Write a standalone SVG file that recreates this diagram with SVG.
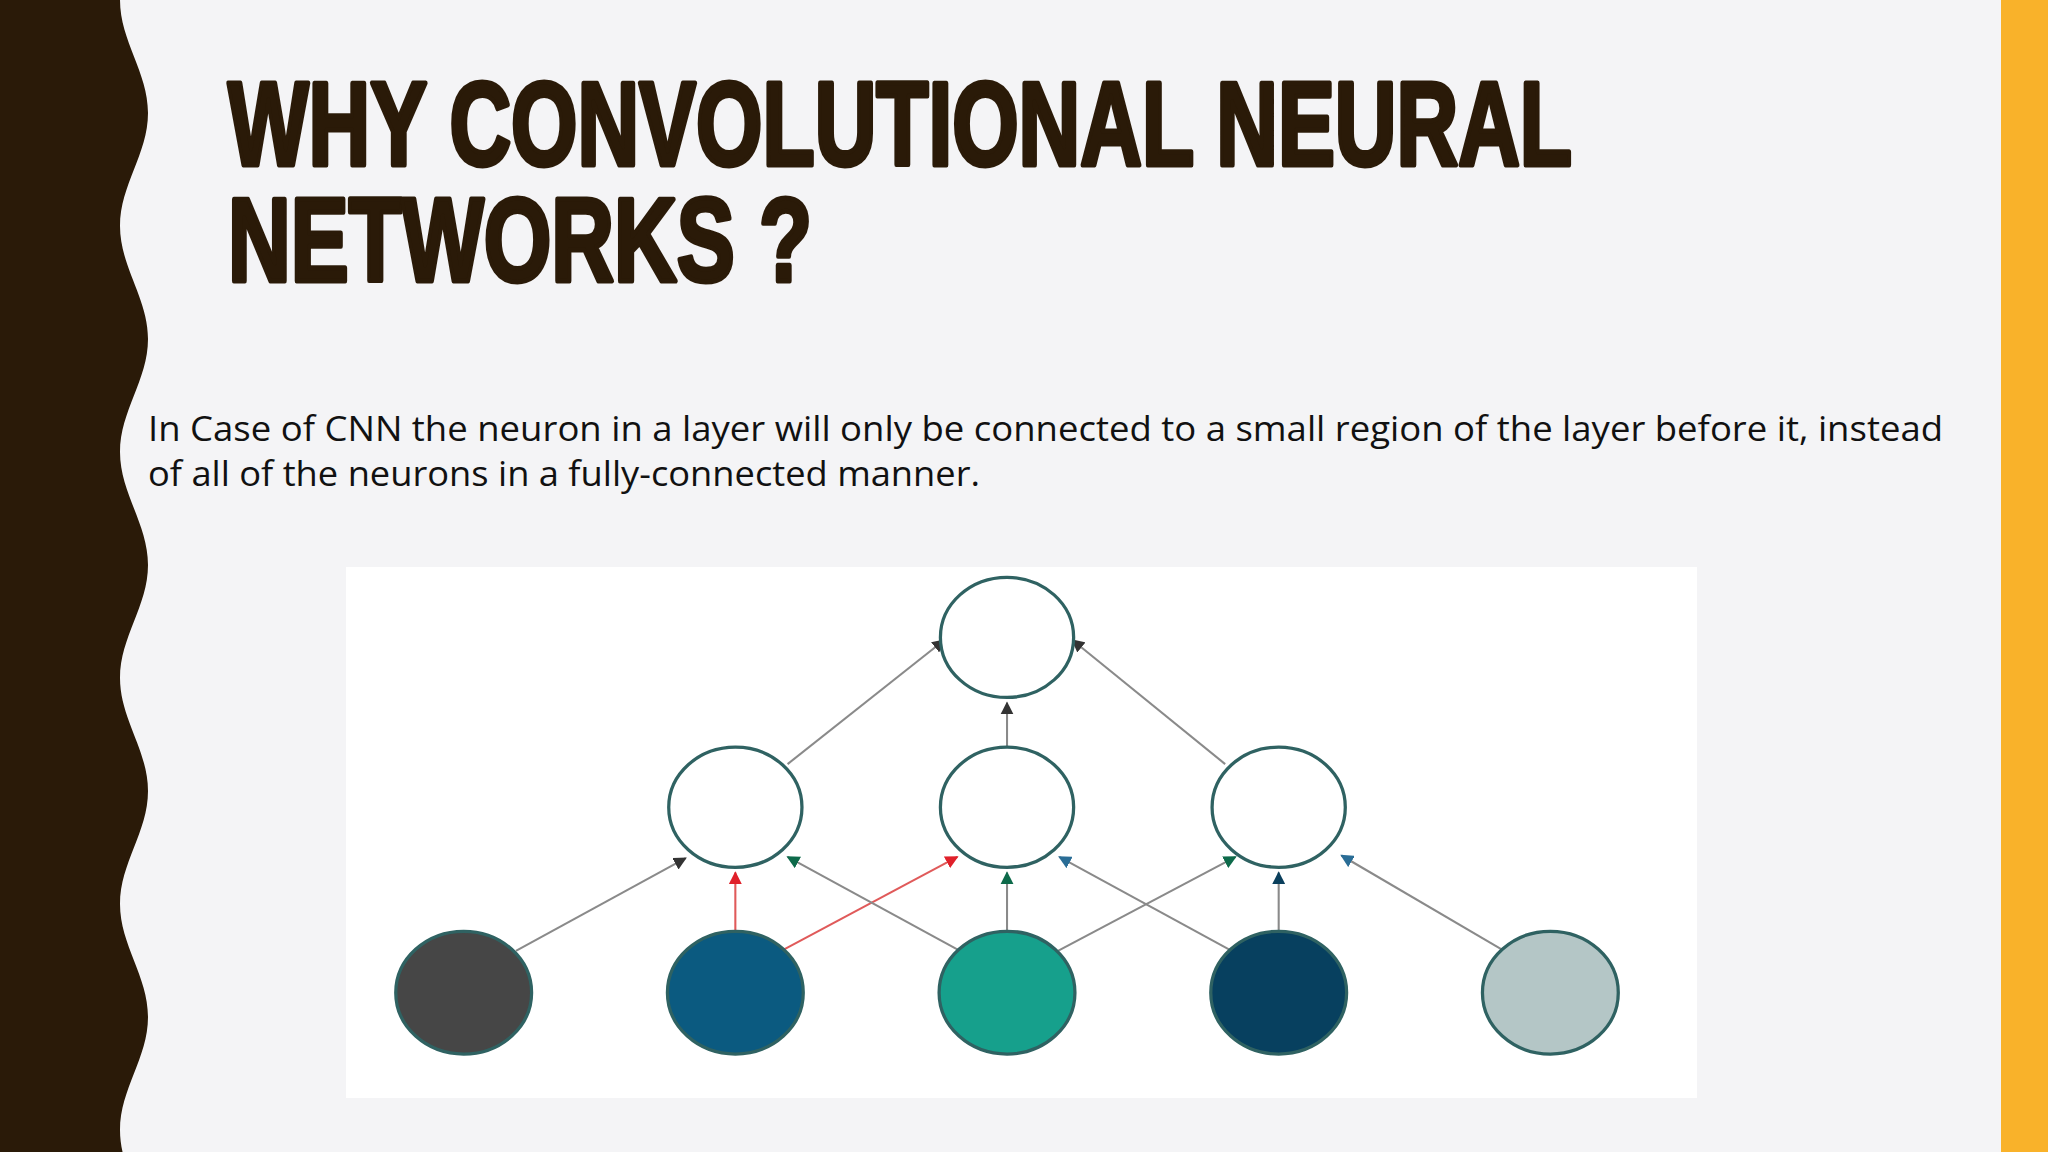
<svg xmlns="http://www.w3.org/2000/svg" width="2048" height="1152" viewBox="0 0 2048 1152">
<defs>
<style>
.t{font-family:"Liberation Sans",Arial,sans-serif;font-weight:bold;font-size:118px;fill:#2a1a08;stroke:#2a1a08;stroke-width:5;stroke-linejoin:round}
.b{font-family:"Open Sans","Noto Sans",sans-serif;font-size:34px;fill:#111}
.n{stroke:#2f6262;stroke-width:2.5}
.e{stroke:#8a8a8a;stroke-width:1.6;fill:none}
</style>
<marker id="ak" viewBox="0 0 10 10" refX="9" refY="5" markerWidth="10" markerHeight="10" markerUnits="userSpaceOnUse" orient="auto"><path d="M0,0L10,5L0,10Z" fill="#333"/></marker>
<marker id="ar" viewBox="0 0 10 10" refX="9" refY="5" markerWidth="10" markerHeight="10" markerUnits="userSpaceOnUse" orient="auto"><path d="M0,0L10,5L0,10Z" fill="#e0202a"/></marker>
<marker id="ag" viewBox="0 0 10 10" refX="9" refY="5" markerWidth="10" markerHeight="10" markerUnits="userSpaceOnUse" orient="auto"><path d="M0,0L10,5L0,10Z" fill="#0d6a4a"/></marker>
<marker id="ab" viewBox="0 0 10 10" refX="9" refY="5" markerWidth="10" markerHeight="10" markerUnits="userSpaceOnUse" orient="auto"><path d="M0,0L10,5L0,10Z" fill="#2a6d96"/></marker>
<marker id="an" viewBox="0 0 10 10" refX="9" refY="5" markerWidth="10" markerHeight="10" markerUnits="userSpaceOnUse" orient="auto"><path d="M0,0L10,5L0,10Z" fill="#0a3f5c"/></marker>
</defs>
<rect width="2048" height="1152" fill="#f4f4f6"/>
<path d="M0,0 L120,0 c0,41 28,72 28,113 c0,41 -28,72 -28,113 c0,41 28,72 28,113 c0,41 -28,72 -28,113 c0,41 28,72 28,113 c0,41 -28,72 -28,113 c0,41 28,72 28,113 c0,41 -28,72 -28,113 c0,41 28,72 28,113 c0,41 -28,72 -28,113 c0,41 28,72 28,113 L0,1243 Z" fill="#2a1a08"/>
<rect x="2001" y="0" width="47" height="1152" fill="#f9b22a"/>
<text class="t" x="228" y="165" textLength="1344" lengthAdjust="spacingAndGlyphs">WHY CONVOLUTIONAL NEURAL</text>
<text class="t" x="228" y="281" textLength="584" lengthAdjust="spacingAndGlyphs">NETWORKS ?</text>
<text class="b" x="148" y="441" textLength="1795" lengthAdjust="spacingAndGlyphs">In Case of CNN the neuron in a layer will only be connected to a small region of the layer before it, instead</text>
<text class="b" x="148" y="486" textLength="832" lengthAdjust="spacingAndGlyphs">of all of the neurons in a fully-connected manner.</text>
<rect x="346" y="567" width="1351" height="531" fill="#ffffff"/>
<g transform="scale(1.30612)">
<g id="connectors">
<line class="e" x1="395" y1="728" x2="525" y2="657" marker-end="url(#ak)"/>
<line class="e" x1="563" y1="713" x2="563" y2="668" style="stroke:#e05a5a" marker-end="url(#ar)"/>
<line class="e" x1="600" y1="727" x2="733" y2="656" style="stroke:#e05a5a" marker-end="url(#ar)"/>
<line class="e" x1="735" y1="728" x2="603" y2="656" marker-end="url(#ag)"/>
<line class="e" x1="771" y1="713" x2="771" y2="668" marker-end="url(#ag)"/>
<line class="e" x1="810" y1="728" x2="946" y2="656" marker-end="url(#ag)"/>
<line class="e" x1="943" y1="728" x2="811" y2="656" marker-end="url(#ab)"/>
<line class="e" x1="979" y1="713" x2="979" y2="668" marker-end="url(#an)"/>
<line class="e" x1="1150" y1="727" x2="1027" y2="655" marker-end="url(#ab)"/>
<line class="e" x1="603" y1="585" x2="723" y2="490" marker-end="url(#ak)"/>
<line class="e" x1="771" y1="572" x2="771" y2="538" marker-end="url(#ak)"/>
<line class="e" x1="938" y1="585" x2="821" y2="490" marker-end="url(#ak)"/>
</g>
<g id="top"><ellipse class="n" cx="771" cy="488" rx="51" ry="46" fill="#fff"/></g>
<g id="m1"><ellipse class="n" cx="563" cy="618" rx="51" ry="46" fill="#fff"/></g>
<g id="m2"><ellipse class="n" cx="771" cy="618" rx="51" ry="46" fill="#fff"/></g>
<g id="m3"><ellipse class="n" cx="979" cy="618" rx="51" ry="46" fill="#fff"/></g>
<g id="b1"><ellipse class="n" cx="355" cy="760" rx="52" ry="47" fill="#464646"/></g>
<g id="b2"><ellipse class="n" cx="563" cy="760" rx="52" ry="47" fill="#0b5a80"/></g>
<g id="b3"><ellipse class="n" cx="771" cy="760" rx="52" ry="47" fill="#16a08c"/></g>
<g id="b4"><ellipse class="n" cx="979" cy="760" rx="52" ry="47" fill="#07405f"/></g>
<g id="b5"><ellipse class="n" cx="1187" cy="760" rx="52" ry="47" fill="#b4c6c6"/></g>
</g>
</svg>
